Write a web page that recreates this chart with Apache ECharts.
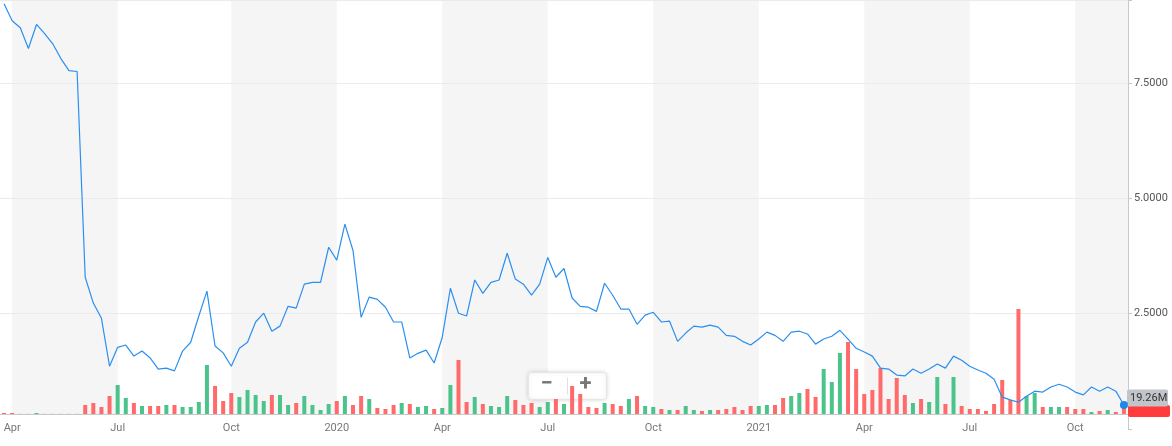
<!DOCTYPE html>
<html>
<head>
<meta charset="utf-8">
<script src="https://cdn.jsdelivr.net/npm/echarts@6/dist/echarts.min.js"></script>
<style>
  html, body { margin: 0; padding: 0; background: #fff; }
  #chart { width: 1172px; height: 446px; }
</style>
</head>
<body>
<div id="chart"></div>
<script>
// weekly closes, first week starts 2019-03-25
const startDate = '2019-03-25';
const prices = [
  9.22, 8.85, 8.70, 8.25, 8.77, 8.57, 8.35, 8.03, 7.77, 7.75,
  3.29, 2.73, 2.40, 1.36, 1.77, 1.82, 1.58, 1.69, 1.54, 1.30,
  1.32, 1.26, 1.69, 1.88, 2.45, 2.99, 1.80, 1.65, 1.36, 1.75,
  1.88, 2.32, 2.51, 2.12, 2.23, 2.66, 2.62, 3.14, 3.18, 3.18,
  3.94, 3.66, 4.44, 3.87, 2.42, 2.86, 2.81, 2.64, 2.32, 2.32,
  1.54, 1.64, 1.71, 1.43, 1.99, 3.05, 2.51, 2.45, 3.23, 2.94,
  3.18, 3.23, 3.81, 3.25, 3.14, 2.90, 3.14, 3.72, 3.29, 3.48,
  2.84, 2.66, 2.64, 2.55, 3.16, 2.90, 2.60, 2.60, 2.27, 2.47,
  2.53, 2.32, 2.34, 1.90, 2.08, 2.23, 2.21, 2.25, 2.21, 2.03,
  2.01, 1.90, 1.82, 1.95, 2.10, 2.03, 1.90, 2.10, 2.12, 2.06,
  1.84, 1.95, 2.01, 2.14, 1.95, 1.75, 1.67, 1.58, 1.32, 1.30,
  1.17, 1.15, 1.30, 1.21, 1.30, 1.41, 1.32, 1.58, 1.49, 1.36,
  1.28, 1.21, 1.08, 0.69, 0.63, 0.58, 0.71, 0.82, 0.80, 0.91,
  0.97, 0.91, 0.80, 0.74, 0.91, 0.82, 0.91, 0.82, 0.52
];
// weekly volume, millions
const volumes = [
  3, 3, 1.5, 1.5, 3, 1.5, 1.5, 1.5, 1.5, 1.5,
  27, 33, 21, 54, 87, 48, 33, 24, 24, 24,
  27, 27, 21, 21, 36, 147, 84, 39, 63, 51,
  72, 57, 39, 57, 57, 27, 33, 54, 27, 12,
  30, 39, 54, 27, 54, 45, 18, 15, 27, 33,
  30, 21, 24, 15, 18, 87, 162, 36, 51, 30,
  24, 21, 54, 42, 27, 33, 21, 36, 45, 30,
  84, 60, 21, 18, 33, 30, 24, 45, 54, 24,
  21, 15, 12, 12, 24, 12, 9, 12, 12, 15,
  21, 12, 24, 24, 27, 27, 48, 54, 63, 75,
  51, 135, 96, 183, 216, 135, 60, 72, 138, 45,
  108, 57, 33, 45, 36, 111, 30, 111, 24, 15,
  15, 9, 30, 102, 42, 315, 54, 63, 21, 21,
  21, 21, 15, 15, 6, 9, 12, 6, 19.26
];
// 1 = up week (green), 0 = down week (red)
const volumeUp = [
  0, 0, 0, 0, 1, 0, 0, 0, 0, 0,
  0, 0, 0, 0, 1, 1, 0, 1, 0, 0,
  1, 0, 1, 1, 1, 1, 0, 0, 0, 1,
  1, 1, 1, 0, 1, 1, 0, 1, 1, 1,
  1, 0, 1, 0, 0, 1, 0, 0, 0, 1,
  0, 1, 1, 0, 1, 1, 0, 0, 1, 0,
  1, 1, 1, 0, 0, 0, 1, 1, 0, 1,
  0, 0, 0, 0, 1, 0, 0, 1, 0, 1,
  1, 0, 1, 0, 1, 1, 0, 1, 0, 0,
  0, 0, 0, 1, 1, 0, 0, 1, 1, 0,
  0, 1, 1, 1, 0, 0, 0, 0, 0, 0,
  0, 0, 1, 0, 1, 1, 0, 1, 0, 0,
  0, 0, 0, 0, 0, 0, 1, 1, 0, 1,
  1, 0, 0, 0, 1, 0, 1, 0, 0
];
const priceTicks = [2.5, 5, 7.5];

const MONTHS = ['Jan', 'Feb', 'Mar', 'Apr', 'May', 'Jun', 'Jul', 'Aug', 'Sep', 'Oct', 'Nov', 'Dec'];
const weeks = prices.map((_, i) => {
  const d = new Date(startDate + 'T00:00:00Z');
  d.setUTCDate(d.getUTCDate() + 7 * i);
  return d.toISOString().slice(0, 10);
});
const monthOf = s => +s.slice(5, 7);
// week index where a new quarter begins
const isQuarterStart = i => {
  const m = monthOf(weeks[i]);
  return (m - 1) % 3 === 0 && i > 0 && monthOf(weeks[i - 1]) !== m;
};
const quarterLabel = s => {
  const m = monthOf(s);
  return m === 1 ? s.slice(0, 4) : MONTHS[m - 1];
};

const chart = echarts.init(document.getElementById('chart'));
const font = 'Roboto, "Noto Sans", sans-serif';
chart.setOption({
  animation: false,
  textStyle: { fontFamily: font },
  grid: [
    { left: 0, right: 44, top: 0, bottom: 17 },
    { left: 0, right: 44, top: 264, bottom: 32 }
  ],
  xAxis: [
    {
      type: 'category', gridIndex: 0, data: weeks,
      axisLine: { show: false }, axisTick: { show: false }, axisLabel: { show: false }
    },
    {
      type: 'category', gridIndex: 1, data: weeks,
      axisLine: { lineStyle: { color: '#c8c8c8' } },
      axisTick: { alignWithLabel: true, interval: i => isQuarterStart(i), lineStyle: { color: '#c8c8c8' } },
      axisLabel: {
        interval: i => isQuarterStart(i),
        formatter: v => quarterLabel(v),
        color: '#777', fontSize: 11, margin: 9
      }
    }
  ],
  yAxis: [
    {
      type: 'value', gridIndex: 0, position: 'right', min: 0, max: 9.3, interval: 2.5,
      axisLine: { show: true, lineStyle: { color: '#c8c8c8' } },
      axisTick: { show: true, length: 4, lineStyle: { color: '#c8c8c8' } },
      splitLine: { show: true, showMinLine: false, lineStyle: { color: '#ebebeb' } },
      axisLabel: {
        color: '#555', fontSize: 11, margin: 6,
        formatter: v => priceTicks.includes(v) ? v.toFixed(4) : ''
      }
    },
    {
      type: 'value', gridIndex: 1, position: 'right', min: 0, max: 450,
      axisLine: { show: false }, axisTick: { show: false },
      axisLabel: { show: false }, splitLine: { show: false }
    }
  ],
  series: [
    {
      type: 'bar', xAxisIndex: 1, yAxisIndex: 1, barWidth: 4, z: 3,
      data: volumes.map((v, i) => ({
        value: v,
        itemStyle: { color: volumeUp[i] ? '#4cc38a' : '#ff6b6b', opacity: v < 2 ? 0.25 : 1 }
      }))
    },
    {
      type: 'line', xAxisIndex: 0, yAxisIndex: 0, data: prices, z: 4,
      showSymbol: false, lineStyle: { color: '#2a8fef', width: 1.2 },
      itemStyle: { color: '#2a8fef' }
    }
  ]
});

// shaded Q2 / Q4 bands and last-value tags, placed through the axes
const px = i => chart.convertToPixel({ gridIndex: 0 }, [i, 0])[0];
const gridRight = 1172 - 44;
const graphics = [];
for (let i = 0; i < weeks.length; i++) {
  if (!isQuarterStart(i)) continue;
  const m = monthOf(weeks[i]);
  if (m !== 4 && m !== 10) continue;
  let j = i + 1;
  while (j < weeks.length && !isQuarterStart(j)) j++;
  const x0 = px(i);
  const x1 = j < weeks.length ? px(j) : gridRight;
  graphics.push({ type: 'rect', z: -10, silent: true, shape: { x: x0, y: 0, width: x1 - x0, height: 414 }, style: { fill: '#f5f5f5' } });
}
const last = weeks.length - 1;
const [dotX, dotY] = chart.convertToPixel({ gridIndex: 0 }, [last, prices[last]]);
const volY = chart.convertToPixel({ xAxisIndex: 1, yAxisIndex: 1 }, [last, volumes[last]])[1];
graphics.push(
  { type: 'rect', z: 10, shape: { x: gridRight, y: 405, width: 42, height: 12, r: 2 }, style: { fill: '#ff3b3b' } },
  { type: 'rect', z: 11, shape: { x: gridRight - 1, y: volY - 18, width: 41, height: 17, r: 2 }, style: { fill: '#c1c4c8' } },
  { type: 'text', z: 12, x: gridRight + 2, y: volY - 15, style: { text: '19.26M', fill: '#333', font: '11px ' + font } },
  { type: 'circle', z: 12, shape: { cx: dotX, cy: dotY, r: 4 }, style: { fill: '#1e88e5' } },
  {
    type: 'group', left: 528, top: 372, z: 20,
    children: [
      { type: 'rect', shape: { width: 78, height: 27, r: 3 },
        style: { fill: '#fff', stroke: '#e6e6e6', shadowBlur: 4, shadowColor: 'rgba(0,0,0,0.15)' } },
      { type: 'line', shape: { x1: 39, y1: 5, x2: 39, y2: 22 }, style: { stroke: '#e0e0e0' } },
      { type: 'text', x: 12, y: 1, style: { text: '−', fill: '#777', font: 'bold 22px ' + font } },
      { type: 'text', x: 51, y: 1, style: { text: '+', fill: '#777', font: 'bold 22px ' + font } }
    ]
  }
);
chart.setOption({ graphic: graphics });
</script>
</body>
</html>
